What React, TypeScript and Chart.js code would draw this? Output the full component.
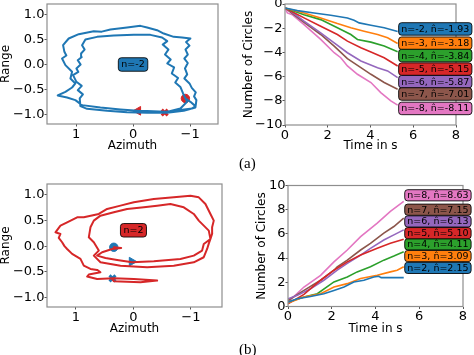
import React, { useEffect, useRef } from "react";
import { Chart, registerables } from "chart.js";
Chart.register(...registerables);

const FONT = "'DejaVu Sans', sans-serif";
const TAB = ["#1f77b4", "#ff7f0e", "#2ca02c", "#d62728", "#9467bd", "#8c564b", "#e377c2"];

// ---------- (a) trajectory, n = -2 ----------
const azA = [-0.918, -1.006, -1.094, -1.035, -0.83, -0.567, -0.246, -0.082, 0.222, 0.573, 0.895, 1.012, 1.158, 1.322, 1.187, 1.07, 1.012, 1.099, 1.07, 1.187, 1.246, 1.17, 1.205, 1.228, 1.129, 0.953, 0.69, 0.55, 0.398, 0.105, -0.129, -0.246, -0.421, -0.538, -0.713, -0.86, -1.006, -0.93, -0.99, -0.92, -0.96, -0.9, -0.96, -0.91, -0.95, -0.9, -0.99, -1.03, -1.1, -1.07, -1.111, -1.094, -0.889, -0.596, -0.246, 0.105, 0.456, 0.807, 0.924, 0.936, 0.88, 0.97, 0.9, 0.994, 1.053, 0.96, 0.994, 0.92, 0.971, 0.9, 0.912, 0.85, 0.895, 0.836, 0.632, 0.339, -0.012, -0.304, -0.509, -0.6, -0.52, -0.62, -0.56, -0.66, -0.6, -0.72, -0.68, -0.79, -0.74, -0.83, -0.877, -0.947, -0.83, -0.555];
const rangeA = [-0.682, -0.749, -0.836, -0.883, -0.916, -0.95, -0.936, -0.93, -0.903, -0.863, -0.816, -0.716, -0.662, -0.622, -0.548, -0.462, -0.381, -0.281, -0.147, -0.013, 0.12, 0.18, 0.254, 0.388, 0.522, 0.609, 0.669, 0.66, 0.702, 0.742, 0.776, 0.742, 0.689, 0.622, 0.555, 0.542, 0.522, 0.45, 0.38, 0.3, 0.2, 0.12, 0.03, -0.08, -0.2, -0.28, -0.38, -0.47, -0.56, -0.64, -0.716, -0.863, -0.93, -0.97, -0.97, -0.957, -0.93, -0.89, -0.836, -0.682, -0.6, -0.515, -0.43, -0.348, -0.214, -0.15, -0.08, 0.0, 0.087, 0.15, 0.221, 0.3, 0.388, 0.502, 0.555, 0.582, 0.595, 0.595, 0.542, 0.47, 0.4, 0.3, 0.2, 0.1, 0.02, -0.06, -0.18, -0.27, -0.36, -0.45, -0.582, -0.749, -0.883, -0.965];
const startA = [-0.918, -0.682];
const dirA = [-0.088, -0.93];
const endA = [-0.555, -0.965];
const annotA = [0.0, 0.0];

// ---------- (b) trajectory, n = 2 ----------
const azB = [0.342, 0.214, 0.371, 0.545, 0.632, 0.487, 0.284, 0.023, -0.354, -0.817, -1.049, -1.194, -1.223, -1.339, -1.31, -1.223, -1.136, -1.049, -0.875, -0.643, -0.412, -0.18, 0.11, 0.342, 0.574, 0.69, 0.748, 0.777, 0.69, 0.603, 0.69, 0.574, 0.226, -0.238, -0.701, -1.049, -1.223, -1.281, -1.31, -1.339, -1.37, -1.368, -1.397, -1.339, -1.252, -1.136, -0.991, -0.701, -0.354, -0.006, 0.226, 0.458, 0.603, 0.864, 0.98, 1.154, 1.27, 1.357, 1.27, 1.3, 1.241, 1.2, 1.154, 1.067, 0.922, 0.864, 0.748, 0.632, 0.574, 0.777, 0.806, 0.632, 0.342, -0.006, -0.412, -0.122, 0.342, 0.371];
const rangeB = [-0.022, -0.035, -0.055, -0.12, -0.185, -0.231, -0.27, -0.315, -0.296, -0.25, -0.185, -0.087, 0.043, 0.141, 0.303, 0.401, 0.499, 0.629, 0.759, 0.824, 0.791, 0.759, 0.726, 0.661, 0.596, 0.499, 0.368, 0.173, 0.076, -0.087, -0.185, -0.316, -0.382, -0.414, -0.382, -0.316, -0.217, -0.055, 0.05, 0.141, 0.25, 0.368, 0.499, 0.629, 0.824, 0.954, 0.987, 0.954, 0.922, 0.857, 0.792, 0.727, 0.629, 0.564, 0.564, 0.466, 0.401, 0.271, 0.238, 0.16, 0.076, 0.0, -0.055, -0.152, -0.25, -0.38, -0.445, -0.465, -0.511, -0.556, -0.595, -0.641, -0.628, -0.641, -0.674, -0.706, -0.686, -0.641];
const startB = [0.342, -0.022];
const dirB = [0.029, -0.303];
const endB = [0.365, -0.63];
const annotB = [0.0, 0.31];

// ---------- (a) number of circles ----------
const nA = [-2, -3, -4, -5, -6, -7, -8];
const nHatA = [-1.93, -3.18, -3.84, -5.15, -5.87, -7.01, -8.11];
const boxYA = [-2.06, -3.24, -4.26, -5.38, -6.42, -7.44, -8.63];
const timesA = [
  [0, 0.58, 1.36, 2.14, 2.92, 3.23, 3.47, 4.02, 4.64, 5.27],
  [0, 0.89, 1.67, 2.45, 3.08, 3.7, 4.33, 4.8, 5.27],
  [0, 0.89, 1.67, 2.45, 3.08, 3.39, 4.02, 4.64, 5.27],
  [0, 0.89, 1.67, 2.45, 2.92, 3.55, 4.02, 4.64, 5.27],
  [0, 0.27, 0.89, 1.67, 2.3, 2.92, 3.55, 4.33, 4.8, 5.27],
  [0, 0.89, 1.67, 2.3, 2.92, 3.55, 4.02, 4.64, 5.27],
  [0, 0.11, 0.34, 0.89, 1.67, 2.3, 2.61, 2.92, 3.39, 4.02, 4.48, 4.95, 5.27],
];
const circlesA = [
  [-0.33, -0.55, -0.74, -0.93, -1.15, -1.34, -1.56, -1.75, -1.97, -2.28],
  [-0.33, -0.74, -1.15, -1.62, -1.97, -2.25, -2.52, -2.79, -3.26],
  [-0.33, -0.88, -1.29, -1.97, -2.52, -2.93, -3.15, -3.48, -3.95],
  [-0.33, -1.15, -1.84, -2.52, -3.07, -3.62, -3.97, -4.44, -5.12],
  [-0.33, -0.6, -1.42, -2.38, -3.21, -4.03, -4.71, -5.26, -5.53, -6.08],
  [-0.33, -1.51, -2.52, -3.48, -4.52, -5.26, -5.81, -6.49, -7.04],
  [-0.33, -0.74, -0.88, -1.7, -2.93, -4.03, -4.44, -5.12, -5.81, -6.49, -7.32, -8.0, -8.36],
];

// ---------- (b) number of circles ----------
const nB = [2, 3, 4, 5, 6, 7, 8];
const nHatB = [2.15, 3.09, 4.11, 5.1, 6.13, 7.15, 8.63];
const boxYB = [3.19, 4.17, 5.14, 6.06, 7.03, 8.0, 9.19];
const timesB = [
  [0, 0.43, 1.03, 1.64, 2.1, 2.56, 3.01, 3.47, 3.92, 4.15, 4.26, 5.29],
  [0, 0.73, 1.49, 2.1, 2.71, 3.32, 4.08, 4.68, 4.99, 5.29],
  [0, 0.73, 1.34, 2.1, 2.71, 3.16, 3.77, 4.38, 4.84, 5.29],
  [0, 0.73, 1.49, 2.1, 2.71, 3.32, 4.08, 4.68, 5.29],
  [0, 0.43, 1.03, 1.64, 2.25, 2.71, 3.32, 3.77, 4.38, 4.84, 5.29],
  [0, 0.73, 1.49, 2.1, 2.25, 2.71, 3.32, 3.77, 4.38, 4.84, 5.29],
  [0, 0.73, 1.49, 2.1, 2.71, 3.32, 4.08, 4.68, 5.29],
];
const circlesB = [
  [0.36, 0.64, 0.83, 1.06, 1.33, 1.61, 2.03, 2.17, 2.44, 2.5, 2.39, 2.39],
  [0.28, 0.78, 1.06, 1.61, 1.89, 2.31, 2.58, 2.86, 3.0, 3.28],
  [0.36, 0.78, 1.06, 2.03, 2.44, 2.86, 3.28, 3.83, 4.17, 4.53],
  [0.22, 1.0, 2.17, 3.0, 3.69, 4.25, 4.81, 5.22, 5.56],
  [0.64, 0.92, 1.47, 2.17, 3.0, 3.56, 4.25, 4.81, 5.5, 5.92, 6.33],
  [0.5, 1.33, 2.17, 3.0, 3.28, 3.83, 4.67, 5.22, 6.06, 6.61, 7.31],
  [0.36, 1.61, 2.58, 3.69, 4.67, 5.78, 6.89, 7.86, 8.69],
];

// ---------- ticks ----------
const azTicks = [1, 0, -1];
const azTickLabels = ["1", "0", "\u22121"];
const rangeTicks = [-1, -0.5, 0, 0.5, 1];
const rangeTickLabels = ["\u22121.0", "\u22120.5", "0.0", "0.5", "1.0"];
const timeTicks = [0, 2, 4, 6, 8];
const timeTickLabels = ["0", "2", "4", "6", "8"];
const negTicks = [0, -2, -4, -6, -8, -10];
const negTickLabels = ["0", "\u22122", "\u22124", "\u22126", "\u22128", "\u221210"];
const posTicks = [0, 2, 4, 6, 8, 10];
const posTickLabels = ["0", "2", "4", "6", "8", "10"];

const pts = (xs: number[], ys: number[]) => xs.map((x, i) => ({ x, y: ys[i] }));

type Box = { text: string; color: string; x: number; y: number; anchor: "left" | "center"; h: number; padX: number };

const framePlugin = {
  id: "frame",
  afterDatasetsDraw(chart: any) {
    const { ctx, chartArea: a } = chart;
    ctx.save();
    ctx.strokeStyle = "#8e8e8e";
    ctx.lineWidth = 1.2;
    ctx.strokeRect(a.left, a.top, a.right - a.left, a.bottom - a.top);
    ctx.restore();
  },
};

function makeBoxPlugin(items: Box[]) {
  return {
    id: "boxes",
    afterDraw(chart: any) {
      const { ctx } = chart;
      const xs = chart.scales.x;
      const ys = chart.scales.y;
      ctx.save();
      ctx.font = `9.5px ${FONT}`;
      for (const b of items) {
        const tw = ctx.measureText(b.text).width;
        const w = tw + 2 * b.padX;
        const px = xs.getPixelForValue(b.x);
        const py = ys.getPixelForValue(b.y);
        const left = b.anchor === "left" ? px + 1 : px - w / 2;
        const top = py - b.h / 2;
        ctx.beginPath();
        ctx.roundRect(left, top, w, b.h, 3);
        ctx.fillStyle = b.color;
        ctx.fill();
        ctx.strokeStyle = "rgba(0,0,0,0.85)";
        ctx.lineWidth = 1;
        ctx.stroke();
        ctx.fillStyle = "#000";
        ctx.textBaseline = "middle";
        ctx.textAlign = "left";
        ctx.fillText(b.text, left + b.padX, py + 0.5);
      }
      ctx.restore();
    },
  };
}

function linAxis(p: {
  min: number; max: number; reverse?: boolean; ticks: number[]; labels: string[];
  title: string; size: number; horizontal: boolean; titlePad: number;
}) {
  return {
    type: "linear",
    min: p.min,
    max: p.max,
    reverse: !!p.reverse,
    afterBuildTicks: (s: any) => {
      s.ticks = p.ticks.map((v) => ({ value: v }));
    },
    afterFit: (s: any) => {
      if (p.horizontal) {
        s.height = p.size;
        s.paddingLeft = 0;
        s.paddingRight = 0;
      } else {
        s.width = p.size;
        s.paddingTop = 0;
        s.paddingBottom = 0;
      }
    },
    ticks: {
      autoSkip: false,
      maxRotation: 0,
      minRotation: 0,
      padding: 0,
      color: "#000",
      font: { family: FONT, size: 13, lineHeight: 1.2 },
      callback: (_v: any, i: number) => p.labels[i],
    },
    grid: {
      display: true,
      drawOnChartArea: false,
      drawTicks: true,
      tickLength: 2.5,
      tickColor: "#555",
      tickWidth: 1,
    },
    border: { display: false },
    title: {
      display: true,
      text: p.title,
      color: "#000",
      font: { family: FONT, size: 12, lineHeight: 1 },
      padding: p.horizontal ? { top: 0, bottom: p.titlePad } : { top: p.titlePad, bottom: 0 },
    },
  };
}

function baseOptions(padding: any, x: any, y: any) {
  return {
    animation: false,
    responsive: false,
    events: [],
    layout: { padding, autoPadding: false },
    plugins: { legend: { display: false }, tooltip: { enabled: false } },
    scales: { x, y },
  };
}

function trajectoryConfig(
  az: number[], rng: number[], lineColor: string, markColor: string,
  start: number[], dir: number[], end: number[], dirRot: number,
  annot: number[], annotText: string, layout: any, xMin: number, xMax: number, yMin: number, yMax: number
) {
  const marker = (p: number[], style: string, extra: any) => ({
    data: [{ x: p[0], y: p[1] }],
    showLine: false,
    pointStyle: style,
    backgroundColor: markColor,
    borderColor: markColor,
    ...extra,
  });
  return {
    type: "scatter",
    data: {
      datasets: [
        {
          data: pts(az, rng),
          showLine: true,
          borderColor: lineColor,
          borderWidth: 2,
          pointRadius: 0,
          tension: 0,
          borderJoinStyle: "round",
          borderCapStyle: "round",
        },
        marker(start, "circle", { pointRadius: 4.2, borderWidth: 1 }),
        marker(dir, "triangle", { pointRadius: 5, rotation: dirRot, borderWidth: 1 }),
        marker(end, "crossRot", { pointRadius: 4.2, borderWidth: 3 }),
      ],
    },
    options: baseOptions(
      layout.padding,
      linAxis({ min: xMin, max: xMax, reverse: true, ticks: azTicks, labels: azTickLabels, title: "Azimuth", size: layout.xh, horizontal: true, titlePad: layout.xtp }),
      linAxis({ min: yMin, max: yMax, ticks: rangeTicks, labels: rangeTickLabels, title: "Range", size: layout.yw, horizontal: false, titlePad: layout.ytp })
    ),
    plugins: [
      framePlugin,
      makeBoxPlugin([{ text: annotText, color: lineColor, x: annot[0], y: annot[1], anchor: "center", h: 13.5, padX: 3 }]),
    ],
  };
}

function circlesConfig(
  times: number[][], circles: number[][], ns: number[], nHats: number[], boxY: number[],
  yTicks: number[], yLabels: string[], yMin: number, yMax: number, layout: any, boxH: number
) {
  const datasets = times.map((t, i) => ({
    data: pts(t, circles[i]),
    showLine: true,
    borderColor: TAB[i],
    borderWidth: 1.6,
    pointRadius: 0,
    tension: 0,
  }));
  const boxes: Box[] = ns.map((n, i) => ({
    text: `n=${n}, n\u0302=${nHats[i].toFixed(2)}`,
    color: TAB[i],
    x: times[i][times[i].length - 1],
    y: boxY[i],
    anchor: "left",
    h: boxH,
    padX: 2.6,
  }));
  return {
    type: "scatter",
    data: { datasets },
    options: baseOptions(
      layout.padding,
      linAxis({ min: 0, max: 8, ticks: timeTicks, labels: timeTickLabels, title: "Time in s", size: layout.xh, horizontal: true, titlePad: layout.xtp }),
      linAxis({ min: yMin, max: yMax, ticks: yTicks, labels: yLabels, title: "Number of Circles", size: layout.yw, horizontal: false, titlePad: layout.ytp })
    ),
    plugins: [framePlugin, makeBoxPlugin(boxes)],
  };
}

function Panel({ left, top, width, height, make }: { left: number; top: number; width: number; height: number; make: () => any }) {
  const ref = useRef<HTMLCanvasElement>(null);
  useEffect(() => {
    const chart = new Chart(ref.current as HTMLCanvasElement, make());
    return () => chart.destroy();
  }, []);
  return (
    <canvas
      ref={ref}
      width={width}
      height={height}
      style={{ position: "absolute", left, top, width, height, display: "block" }}
    />
  );
}

export default function App() {
  const cap: React.CSSProperties = {
    position: "absolute",
    fontFamily: "'Liberation Serif', 'DejaVu Serif', serif",
    fontSize: 15,
    lineHeight: "15px",
    color: "#000",
  };
  return (
    <div style={{ position: "fixed", left: 0, top: 0, width: 474, height: 355, background: "#fff", overflow: "hidden" }}>
      <Panel
        left={0} top={0} width={237} height={160}
        make={() =>
          trajectoryConfig(azA, rangeA, TAB[0], TAB[3], startA, dirA, endA, -90, annotA, "n=-2",
            { padding: { left: 0, top: 4, right: 19, bottom: 0 }, xh: 36, yw: 47, xtp: 8, ytp: 0 },
            -1.49, 1.51, -1.195, 1.215)
        }
      />
      <Panel
        left={237} top={0} width={237} height={160}
        make={() =>
          circlesConfig(timesA, circlesA, nA, nHatA, boxYA, negTicks, negTickLabels, -10, 0,
            { padding: { left: 0, top: 4, right: 18, bottom: 0 }, xh: 35, yw: 48, xtp: 8.3, ytp: 5.7 }, 12.5)
        }
      />
      <Panel
        left={0} top={170} width={237} height={175}
        make={() =>
          trajectoryConfig(azB, rangeB, TAB[3], TAB[0], startB, dirB, endB, 90, annotB, "n=2",
            { padding: { left: 0, top: 14, right: 15, bottom: 0 }, xh: 38, yw: 47, xtp: 10, ytp: 0 },
            -1.54, 1.504, -1.19, 1.215)
        }
      />
      <Panel
        left={237} top={170} width={237} height={175}
        make={() =>
          circlesConfig(timesB, circlesB, nB, nHatB, boxYB, posTicks, posTickLabels, 0, 10,
            { padding: { left: 0, top: 15.5, right: 11, bottom: 0 }, xh: 38.5, yw: 51, xtp: 9.7, ytp: 19 }, 11.2)
        }
      />
      <div style={{ ...cap, left: 239, top: 156 }}>(a)</div>
      <div style={{ ...cap, left: 239, top: 342 }}>(b)</div>
    </div>
  );
}
